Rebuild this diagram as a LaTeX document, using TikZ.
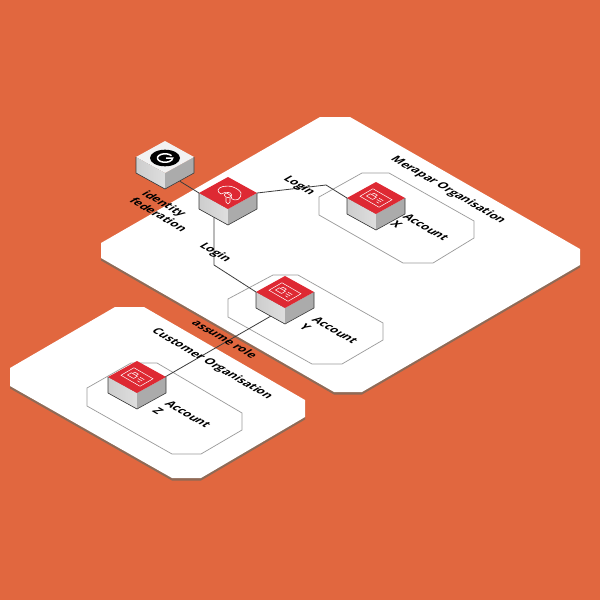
\documentclass[tikz,border=0pt]{standalone}
\usepackage{fontspec}
\setmainfont{Open Sans}
\definecolor{bgc}{HTML}{E1673F}
\definecolor{shadowc}{HTML}{8F6A56}
\definecolor{redc}{HTML}{DE2933}
\definecolor{leftc}{HTML}{CDCDCD}
\definecolor{leftd}{HTML}{DEDEDE}
\definecolor{rightc}{HTML}{ABABAB}
\definecolor{edgec}{HTML}{3C3C3C}
\definecolor{groupc}{HTML}{9A9A9A}
\tikzset{
  platform/.style={fill=white,draw=none},
  platshadow/.style={fill=shadowc,draw=none},
  groupbox/.style={draw=groupc,line width=.7pt,fill=white},
  isolabel/.style={font=\bfseries\fontsize{11.6}{14.5}\selectfont,text=black,inner sep=0pt,align=left,rotate=-30,xslant=.577,yscale=.866},
  conn/.style={draw=edgec,line width=.8pt},
  iconline/.style={draw=white,line width=.5pt,line join=round},
  isolocal/.style={x={(.866pt,-.5pt)},y={(.866pt,.5pt)}}
}
\newcommand{\isocube}[4]{% name, cx, cy, top colour
  \coordinate (#1) at (#2,#3);
  \coordinate (#1-t) at (#2,#3-16);
  \coordinate (#1-l) at (#2-29,#3);
  \coordinate (#1-r) at (#2+29,#3);
  \coordinate (#1-f) at (#2,#3+16);
  \coordinate (#1-b) at (#2,#3+32);
  \coordinate (#1-lb) at (#2-29,#3+16);
  \coordinate (#1-rb) at (#2+29,#3+16);
  \fill[left color=leftc,right color=leftd] (#1-l) -- (#1-f) -- (#1-b) -- (#1-lb) -- cycle;
  \fill[rightc] (#1-r) -- (#1-f) -- (#1-b) -- (#1-rb) -- cycle;
  \fill[#4] (#1-t) -- (#1-r) -- (#1-f) -- (#1-l) -- cycle;
  \draw[edgec,line width=.6pt,line join=round] (#1-l) -- (#1-lb) -- (#1-b) -- (#1-rb) -- (#1-r);
}
\newcommand{\cardicon}[2]{%
  \begin{scope}[shift={(#1,#2)}]
  \begin{scope}[isolocal]
    \draw[iconline] (-11,-7.5) -- (11,-7.5) -- (11,7.5) -- (-11,7.5) -- cycle;
    \draw[iconline] (-7.5,-3.5) -- (-0.5,-3.5) -- (-0.5,1) -- (-7.5,1) -- cycle;
    \draw[iconline] (-6,1) -- (-6,3.6) -- (-2,3.6) -- (-2,1);
    \draw[iconline] (2,1.5) -- (7,1.5);
    \draw[iconline] (2,-1) -- (7,-1);
    \draw[iconline] (4,-3.5) -- (7,-3.5);
  \end{scope}
  \end{scope}
}
\begin{document}
\begin{tikzpicture}[x=1pt,y=-1pt]
\useasboundingbox (0,0) rectangle (600,600);
\fill[bgc] (0,0) rectangle (600,600);

% platforms
\begin{scope}[yshift=-2.5pt]
\fill[platshadow] (320,117) -- (350,117) -- (580,249) -- (580,265) -- (362,392) -- (334,392) -- (101,258) -- (101,243) -- cycle;
\fill[platshadow] (115,307) -- (144,307) -- (305,400) -- (305,417) -- (201,478) -- (172,478) -- (10,386) -- (10,368) -- cycle;
\end{scope}
\fill[platform] (320,117) -- (350,117) -- (580,249) -- (580,265) -- (362,392) -- (334,392) -- (101,258) -- (101,243) -- cycle;
\fill[platform] (115,307) -- (144,307) -- (305,400) -- (305,417) -- (201,478) -- (172,478) -- (10,386) -- (10,368) -- cycle;

% account groups
\draw[groupbox] (362,173) -- (389,173) -- (474,221) -- (474,238) -- (433,263) -- (403,263) -- (319,215) -- (319,197) -- cycle;
\draw[groupbox] (273,275) -- (298,275) -- (383,323) -- (383,340) -- (342,364) -- (312,364) -- (228,317) -- (228,299) -- cycle;
\draw[groupbox] (131,363) -- (157,363) -- (242,413) -- (242,430) -- (201,454) -- (172,454) -- (87,406) -- (87,388) -- cycle;

% anchor points used by connectors
\coordinate (G-se) at (179.5,181);
\coordinate (R-lft) at (199,193);
\coordinate (R-rgt) at (257,193);
\coordinate (R-sw0) at (214,217);
\coordinate (X-lft) at (347,198);
\coordinate (Y-lft) at (256,292);
\coordinate (Y-sw0) at (271,316);
\coordinate (Z-rgt) at (165,377);
\coordinate (bendA) at (326,185);
\coordinate (bendB) at (214,265);

\draw[conn] (G-se) -- (R-lft);
\draw[conn] (R-rgt) -- (bendA) -- (X-lft);
\draw[conn] (R-sw0) -- (bendB) -- (Y-lft);
\draw[conn] (Y-sw0) -- (Z-rgt);

% cubes
\isocube{G}{165}{157}{black!5}
\isocube{R}{228}{193}{redc}
\isocube{X}{376}{198}{redc}
\isocube{Y}{285}{292}{redc}
\isocube{Z}{137}{377}{redc}

% G logo
\fill[black] (165,158) ellipse [x radius=15,y radius=8.3];
\begin{scope}[shift={(165,158)},x={(1pt,0pt)},y={(0pt,.56pt)}]
  \draw[white,line width=1.5pt] (6.5,4) arc[start angle=32,end angle=360,radius=7.6] -- (1,0);
\end{scope}

% key icon
\draw[iconline,line width=.6pt] plot[smooth cycle,tension=.7] coordinates {(218,190) (223,186.5) (233,187) (241,193) (238,199.5) (232,199) (231,196) (225,192.5) (221,194)};
\draw[iconline,line width=.6pt] (228,195) ellipse [x radius=3.6,y radius=2.6];
\draw[iconline,line width=.6pt] (226,197.5) -- (226,202) -- (228,204) -- (230,202) -- (230,197.5);

\cardicon{376}{198}
\cardicon{285}{292}
\cardicon{137}{377}

% labels
\node[isolabel] (lblMerapar) at (448,190) {Merapar Organisation};
\node[isolabel] (lblLoginA) at (299,186) {Login};
\node[isolabel] (lblLoginB) at (215,253) {Login};
\node[isolabel] (lblFed) at (165,211) {identity\\federation};
\node[isolabel] (lblX) at (420,231) {Account\\X};
\node[isolabel] (lblY) at (329,334) {Account\\Y};
\node[isolabel] (lblZ) at (182,418) {Account\\Z};
\node[isolabel] (lblAssume) at (225,339) {assume role};
\node[isolabel] (lblCustomer) at (212,364) {Customer Organisation};
\end{tikzpicture}
\end{document}
